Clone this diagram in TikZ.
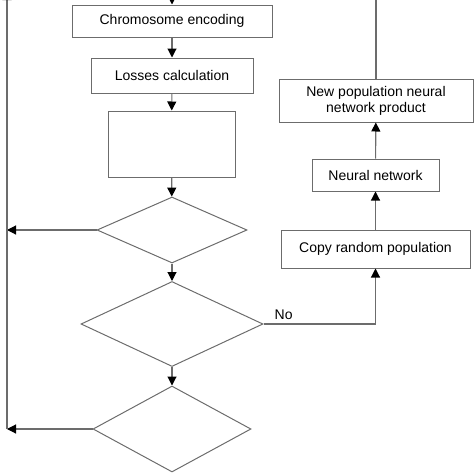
\documentclass[tikz,border=0pt]{standalone}
\usepackage{fontspec}
\setmainfont{Liberation Sans}
\usetikzlibrary{arrows.meta, shapes.geometric}

\begin{document}
\begin{tikzpicture}[
    x=1pt, y=-1pt,
    stepbox/.style={draw=gray!85!black, line width=1pt, fill=white, inner sep=0pt,
        font=\fontsize{14}{16}\selectfont, align=center},
    testnode/.style={diamond, draw=gray!85!black, line width=1pt, inner sep=0pt},
    line/.style={gray!85!black, line width=1.1pt},
    conn/.style={line, -{Triangle[length=9pt,width=9pt,fill=black,color=black]}}
]
\useasboundingbox (0,0) rectangle (474,474);

% Main column
\node[stepbox, minimum width=200pt, minimum height=32pt] (chrom) at (172,21) {Chromosome encoding};
\node[stepbox, minimum width=162pt, minimum height=35pt] (loss) at (172,75.5) {Losses calculation};
\node[stepbox, minimum width=127pt, minimum height=66pt] (blank) at (171.5,144) {};

% Decisions
\node[testnode, minimum width=150pt, minimum height=66pt] (testA) at (172,230) {};
\node[testnode, minimum width=182pt, minimum height=85pt] (testB) at (172,324) {};
\node[testnode, minimum width=158pt, minimum height=86pt] (testC) at (172,429) {};

% Right column
\node[stepbox, minimum width=189pt, minimum height=38pt] (copy) at (375.5,249) {Copy random population};
\node[stepbox, minimum width=127pt, minimum height=32pt] (neural) at (375.5,175) {Neural network};
\node[stepbox, minimum width=194pt, minimum height=43pt] (newpop) at (376,100.5) {New population neural\\network product};

% Loop ends leaving the picture
\coordinate (loopTop) at (7,-9);
\coordinate (loopMid) at (7,230);
\coordinate (loopBot) at (7,429);
\coordinate (inTop) at (172,-10);
\coordinate (outTop) at (376,-10);

% Connections: main column
\draw[conn] (inTop) -- (chrom);
\foreach \a/\b in {chrom/loss, loss/blank, blank/testA, testA/testB, testB/testC}
    \draw[conn] (\a) -- (\b);

% Connections: back to the start
\draw[conn] (testA.west) -- (loopMid);
\draw[conn] (testC.west) -- (loopBot);
\draw[conn] (loopBot) -- (loopTop);

% Connections: right column
\draw[conn] (testB.east) -| node[pos=0.09, above, font=\fontsize{14}{16}\selectfont, text=black] (nolabel) {No} (copy.south);
\draw[conn] (copy) -- (neural);
\draw[conn] (neural) -- (newpop);
\draw[line] (newpop.north) -- (outTop);

\end{tikzpicture}
\end{document}
